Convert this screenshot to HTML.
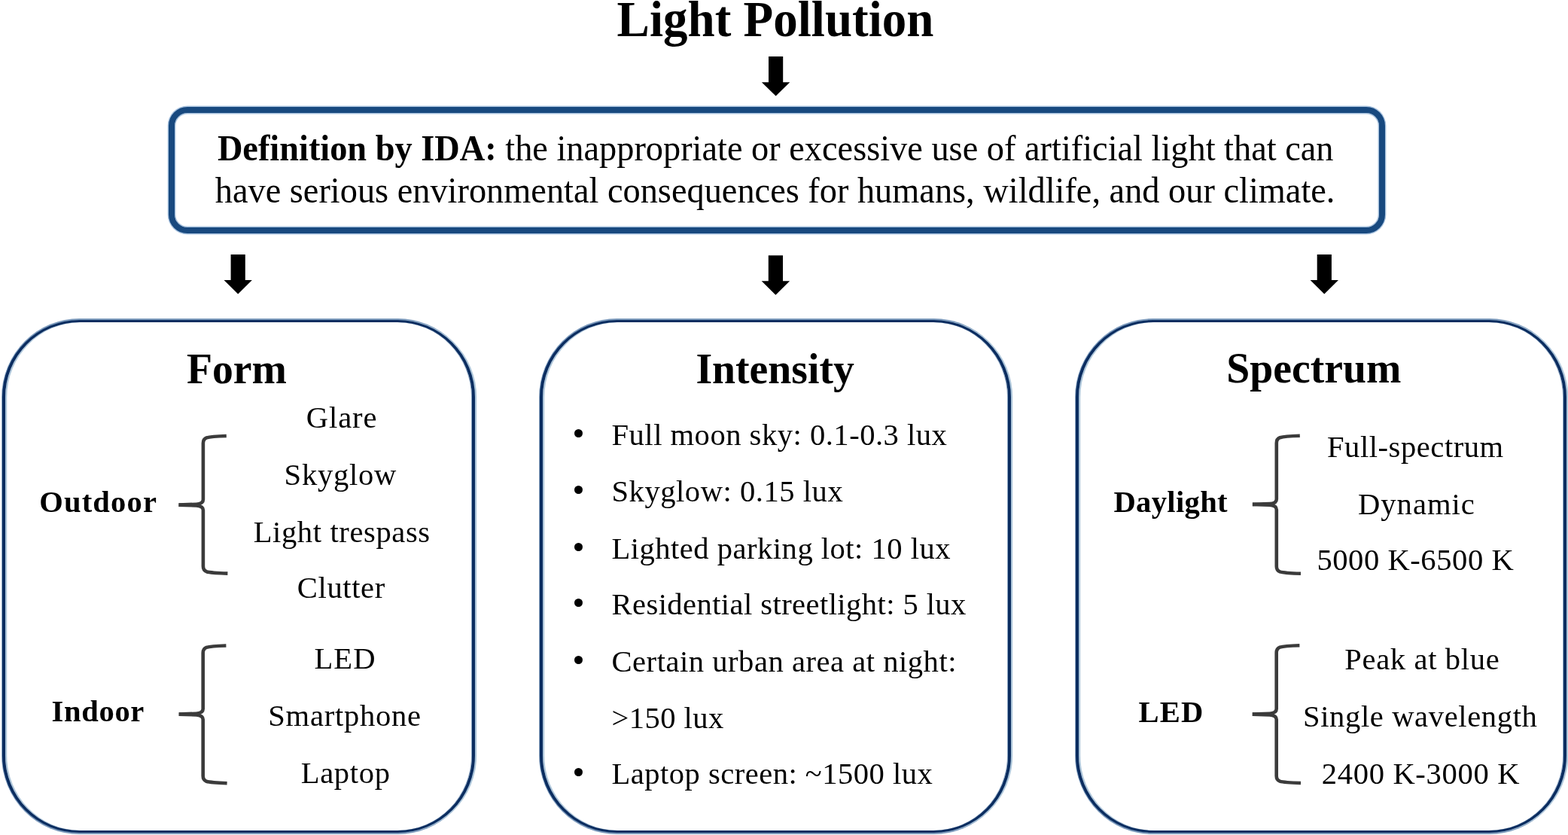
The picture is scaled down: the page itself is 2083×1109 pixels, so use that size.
<!DOCTYPE html>
<html lang="en"><head><meta charset="utf-8"><title>Light Pollution</title>
<style>
html,body{margin:0;padding:0;background:#fff;}
body{width:2083px;height:1109px;position:relative;overflow:hidden;font-family:"Liberation Serif",serif;color:#000;}
.t{position:absolute;white-space:nowrap;line-height:1;}
.box{position:absolute;box-sizing:border-box;background:#fff;}
.def{left:223.5px;top:141.6px;width:1616.6px;height:168px;border:8.5px solid #18497f;border-radius:25px;box-shadow:0 0 0 1.4px #a9c3df, inset 0 0 0 1.4px #a9c3df;}
.col{border:solid #0b2d60;border-width:3.7px 4.1px 3.8px 4.1px;border-radius:102.5px;top:425px;height:681px;box-shadow:2.2px 0 0 0 #adc6da, inset 2.2px 0 0 0 #adc6da, 0 -2px 0 0 #7c9abc, 0 2px 0 0 #7c9abc, -1px 0 0 0 #8fa9c6, inset -1px 0 0 0 #8fa9c6;}
svg{position:absolute;left:0;top:0;}
.b{position:absolute;width:11px;height:11px;border-radius:50%;background:#000;}
</style></head><body>

<div class="box def"></div>
<div class="box col" style="left:2.6px;width:628.2px;"></div>
<div class="box col" style="left:716.7px;width:626.3px;"></div>
<div class="box col" style="left:1429px;width:651.8px;"></div>
<svg width="2083" height="1109" viewBox="0 0 2083 1109">
<polygon points="1021.0,75.1 1040.2,75.1 1040.2,109.2 1049.3,109.2 1030.6,127.6 1011.9,109.2 1021.0,109.2" fill="#000"/>
<polygon points="306.6,337.9 325.8,337.9 325.8,372.0 334.9,372.0 316.2,390.4 297.5,372.0 306.6,372.0" fill="#000"/>
<polygon points="1020.8,339.2 1040.0,339.2 1040.0,373.3 1049.1,373.3 1030.4,391.7 1011.7,373.3 1020.8,373.3" fill="#000"/>
<polygon points="1749.7,337.9 1768.9,337.9 1768.9,372.0 1778.0,372.0 1759.3,390.4 1740.6,372.0 1749.7,372.0" fill="#000"/>
<path d="M300.8,579 C286.8,579.4 278.9,580.0 274.4,581.4 Q269.9,583.2 269.9,588.6 L269.9,663.6 Q269.9,669.2 260.9,669.7 L237.5,670.6" fill="none" stroke="#3b3b3b" stroke-width="4.6" stroke-linecap="butt" stroke-linejoin="round"/><path d="M237.5,670.6 L260.9,671.5 Q269.9,672.0 269.9,677.6 L269.9,752.0 Q269.9,757.4 274.4,759.2 C278.9,760.6 288.4,761.2 302.4,761.6" fill="none" stroke="#3b3b3b" stroke-width="4.6" stroke-linecap="butt" stroke-linejoin="round"/>
<path d="M300.4,857.5 C286.4,857.9 278.7,858.5 274.2,859.9 Q269.7,861.7 269.7,867.1 L269.7,941.6 Q269.7,947.2 260.7,947.7 L237.7,948.6" fill="none" stroke="#3b3b3b" stroke-width="4.6" stroke-linecap="butt" stroke-linejoin="round"/><path d="M237.7,948.6 L260.7,949.5 Q269.7,950.0 269.7,955.6 L269.7,1030.6 Q269.7,1036.0 274.2,1037.8 C278.7,1039.2 287.6,1039.8 301.6,1040.2" fill="none" stroke="#3b3b3b" stroke-width="4.6" stroke-linecap="butt" stroke-linejoin="round"/>
<path d="M1726.8,578.8 C1712.8,579.2 1704.8,579.8 1700.3,581.2 Q1695.8,583.0 1695.8,588.4 L1695.8,662.9 Q1695.8,668.5 1686.8,669.0 L1663.9,669.9" fill="none" stroke="#3b3b3b" stroke-width="4.6" stroke-linecap="butt" stroke-linejoin="round"/><path d="M1663.9,669.9 L1686.8,670.8 Q1695.8,671.3 1695.8,676.9 L1695.8,752.2 Q1695.8,757.6 1700.3,759.4 C1704.8,760.8 1714,761.4 1728,761.8" fill="none" stroke="#3b3b3b" stroke-width="4.6" stroke-linecap="butt" stroke-linejoin="round"/>
<path d="M1726.4,857.2 C1712.4,857.6 1704.7,858.2 1700.2,859.6 Q1695.7,861.4 1695.7,866.8 L1695.7,941.6 Q1695.7,947.2 1686.7,947.7 L1663.8,948.6" fill="none" stroke="#3b3b3b" stroke-width="4.6" stroke-linecap="butt" stroke-linejoin="round"/><path d="M1663.8,948.6 L1686.7,949.5 Q1695.7,950.0 1695.7,955.6 L1695.7,1030.4 Q1695.7,1035.8 1700.2,1037.6 C1704.7,1039.0 1714,1039.6 1728,1040" fill="none" stroke="#3b3b3b" stroke-width="4.6" stroke-linecap="butt" stroke-linejoin="round"/>
</svg>
<div class="t" style="top:-6.00px;font-size:65px;font-weight:bold;left:1030.00px;transform-origin:50% 54px;transform:translateX(-50%) scaleY(1.03);">Light Pollution</div>
<div class="t" style="top:175.00px;font-size:46.35px;left:1030.20px;transform-origin:50% 38px;transform:translateX(-50%) scaleY(1.03);"><b>Definition by IDA:</b> the inappropriate or excessive use of artificial light that can</div>
<div class="t" style="top:231.00px;font-size:46.35px;left:1029.60px;transform-origin:50% 38px;transform:translateX(-50%) scaleY(1.03);">have serious environmental consequences for humans, wildlife, and our climate.</div>
<div class="t" style="top:463.00px;font-size:55.7px;font-weight:bold;left:314.40px;transform-origin:50% 46px;transform:translateX(-50%) scaleY(1.02);">Form</div>
<div class="t" style="top:463.00px;font-size:55.7px;font-weight:bold;left:1029.60px;transform-origin:50% 46px;transform:translateX(-50%) scaleY(1.02);">Intensity</div>
<div class="t" style="top:462.00px;font-size:55.7px;font-weight:bold;left:1745.30px;transform-origin:50% 46px;transform:translateX(-50%) scaleY(1.02);">Spectrum</div>
<div class="t" style="top:535.00px;font-size:40.6px;left:406.70px;letter-spacing:0.93px;">Glare</div>
<div class="t" style="top:611.00px;font-size:40.6px;left:377.60px;letter-spacing:0.73px;">Skyglow</div>
<div class="t" style="top:687.00px;font-size:40.6px;left:336.70px;letter-spacing:0.61px;">Light trespass</div>
<div class="t" style="top:761.00px;font-size:40.6px;left:394.80px;letter-spacing:0.62px;">Clutter</div>
<div class="t" style="top:855.00px;font-size:40.6px;left:417.40px;letter-spacing:1.15px;">LED</div>
<div class="t" style="top:931.00px;font-size:40.6px;left:356.30px;letter-spacing:0.74px;">Smartphone</div>
<div class="t" style="top:1007.00px;font-size:40.6px;left:399.80px;letter-spacing:0.64px;">Laptop</div>
<div class="t" style="top:647.00px;font-size:40.6px;font-weight:bold;left:130.70px;transform:translateX(-50%);letter-spacing:1.13px;">Outdoor</div>
<div class="t" style="top:925.00px;font-size:40.6px;font-weight:bold;left:130.30px;transform:translateX(-50%);letter-spacing:0.66px;">Indoor</div>
<div class="t" style="top:558.00px;font-size:40.6px;left:812.50px;letter-spacing:0.50px;">Full moon sky: 0.1-0.3 lux</div>
<div class="b" style="left:762.5px;top:569.9px"></div>
<div class="t" style="top:633.00px;font-size:40.6px;left:812.50px;letter-spacing:0.53px;">Skyglow: 0.15 lux</div>
<div class="b" style="left:762.5px;top:644.9px"></div>
<div class="t" style="top:709.00px;font-size:40.6px;left:812.50px;letter-spacing:0.49px;">Lighted parking lot: 10 lux</div>
<div class="b" style="left:762.5px;top:720.9px"></div>
<div class="t" style="top:783.00px;font-size:40.6px;left:812.50px;letter-spacing:0.42px;">Residential streetlight: 5 lux</div>
<div class="b" style="left:762.5px;top:794.9px"></div>
<div class="t" style="top:859.00px;font-size:40.6px;left:812.50px;letter-spacing:0.52px;">Certain urban area at night:</div>
<div class="b" style="left:762.5px;top:870.9px"></div>
<div class="t" style="top:934.00px;font-size:40.6px;left:812.50px;letter-spacing:0.43px;">&gt;150 lux</div>
<div class="t" style="top:1008.00px;font-size:40.6px;left:812.50px;letter-spacing:0.48px;">Laptop screen: ~1500 lux</div>
<div class="b" style="left:762.5px;top:1019.9px"></div>
<div class="t" style="top:574.00px;font-size:40.6px;left:1763.00px;letter-spacing:0.54px;">Full-spectrum</div>
<div class="t" style="top:650.00px;font-size:40.6px;left:1804.00px;letter-spacing:1.00px;">Dynamic</div>
<div class="t" style="top:724.00px;font-size:40.6px;left:1749.40px;letter-spacing:0.55px;">5000 K-6500 K</div>
<div class="t" style="top:856.00px;font-size:40.6px;left:1786.30px;letter-spacing:0.64px;">Peak at blue</div>
<div class="t" style="top:932.00px;font-size:40.6px;left:1731.00px;letter-spacing:0.62px;">Single wavelength</div>
<div class="t" style="top:1008.00px;font-size:40.6px;left:1755.80px;letter-spacing:0.66px;">2400 K-3000 K</div>
<div class="t" style="top:647.00px;font-size:40.6px;font-weight:bold;left:1555.20px;transform:translateX(-50%);letter-spacing:0.33px;">Daylight</div>
<div class="t" style="top:926.00px;font-size:40.6px;font-weight:bold;left:1556.00px;transform:translateX(-50%);letter-spacing:1.15px;">LED</div>
</body></html>
